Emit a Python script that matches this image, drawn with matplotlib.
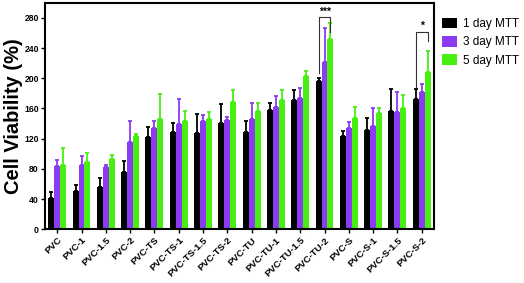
import numpy as np
import matplotlib
matplotlib.use("Agg")
import matplotlib.pyplot as plt

plt.rcParams['font.family'] = ['Liberation Sans', 'DejaVu Sans']

samples = ['PVC', 'PVC-1', 'PVC-1.5', 'PVC-2', 'PVC-TS', 'PVC-TS-1', 'PVC-TS-1.5', 'PVC-TS-2',
           'PVC-TU', 'PVC-TU-1', 'PVC-TU-1.5', 'PVC-TU-2', 'PVC-S', 'PVC-S-1', 'PVC-S-1.5', 'PVC-S-2']

# mean values
day1 = [42, 50, 56, 76, 122, 129, 128, 141, 129, 158, 171, 197, 123, 132, 157, 173]
day3 = [84, 85, 83, 116, 134, 139, 143, 145, 146, 162, 174, 221, 134, 137, 156, 182]
day5 = [85, 89, 93, 123, 146, 144, 146, 168, 157, 171, 203, 252, 148, 154, 160, 208]

# top of error bar values
day1_top = [49, 59, 68, 90, 136, 141, 153, 166, 143, 167, 184, 200, 130, 148, 186, 186]
day3_top = [92, 97, 85, 144, 143, 172, 151, 149, 167, 176, 187, 266, 142, 160, 182, 193]
day5_top = [108, 101, 98, 126, 179, 157, 156, 185, 167, 184, 210, 273, 162, 161, 178, 236]

series = {'1 day MTT': (day1, day1_top, '#000000'),
          '3 day MTT': (day3, day3_top, '#8b3cf2'),
          '5 day MTT': (day5, day5_top, '#47f011')}

fig = plt.figure(figsize=(5.24, 2.83), dpi=100)
ax = fig.add_axes([0.086, 0.19, 0.742, 0.80])

x = np.arange(len(samples))
w = 0.245
for i, name in enumerate(series):
    vals, tops, col = series[name]
    vals = np.array(vals)
    err = np.array(tops) - vals
    pos = x + (i - 1) * w
    ax.bar(pos, vals, width=w, color=col, label=name, zorder=2)
    ax.errorbar(pos, vals, yerr=[np.zeros_like(err), err], fmt='none', ecolor=col,
                elinewidth=1.3, capsize=1.5, capthick=1.3, zorder=1)

# significance brackets
def bracket(xc, left_y, right_y, top_y, label):
    x0, x1 = xc - w, xc + w
    ax.plot([x0, x0, x1, x1], [left_y, top_y, top_y, right_y], color='#333333', lw=0.8)
    ax.text(xc, top_y + 1, label, ha='center', va='bottom', fontsize=7.5, fontweight='bold')

bracket(11, 207, 262, 281, '***')
bracket(15, 189, 249, 262, '*')

ax.set_xlim(-0.5, 15.5)
ax.set_ylim(0, 300)
ax.set_yticks(np.arange(0, 281, 40))
ax.set_xticks(x)
ax.set_xticklabels(samples, rotation=45, ha='right', rotation_mode='anchor',
                   fontsize=6.8, fontweight='bold')
for lab in ax.get_yticklabels():
    lab.set_fontweight('bold')
ax.tick_params(axis='y', labelsize=6.2, length=3, width=1, pad=1.5)
ax.tick_params(axis='x', length=3, width=1, pad=1.5)
for s in ax.spines.values():
    s.set_linewidth(1.5)

ax.set_ylabel('Cell Viability (%)', fontsize=14.5, fontweight='bold', labelpad=1)

ax.legend(loc='upper left', bbox_to_anchor=(1.0, 0.97), frameon=False, fontsize=8.5,
          handlelength=1.3, handleheight=1.0, handletextpad=0.5, labelspacing=0.5,
          borderaxespad=0.3)

fig.savefig('out.png', dpi=100)
